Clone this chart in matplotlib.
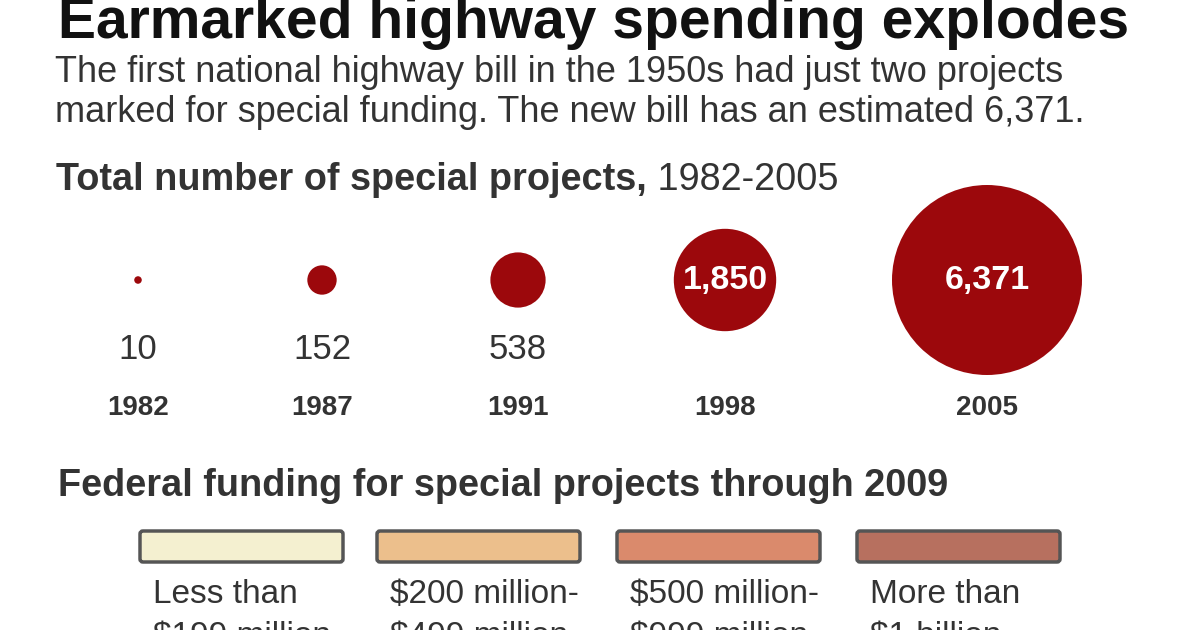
import numpy as np
import matplotlib
matplotlib.use("Agg")
import matplotlib.pyplot as plt
from matplotlib.patches import Circle, FancyBboxPatch

plt.rcParams['font.family'] = ['Liberation Sans', 'DejaVu Sans']

# data
years = ['1982', '1987', '1991', '1998', '2005']
projects = [10, 152, 538, 1850, 6371]
fund_line1 = ['Less than', '$200 million-', '$500 million-', 'More than']
fund_line2 = ['$199 million', '$499 million', '$999 million', '$1 billion']
fund_colors = ['#f4f0d0', '#ecbf8c', '#da8a6c', '#b7705f']

# layout (pixel space)
circle_x = [138, 322, 518, 725, 987]
circle_y = 280
max_r = 95
box_x = [140, 377, 617, 857]
box_w = 203

fig = plt.figure(figsize=(12, 6.3), dpi=100)
ax = fig.add_axes([0, 0, 1, 1])
ax.set_xlim(0, 1200)
ax.set_ylim(630, 0)
ax.axis('off')

dark = '#333333'

ax.text(58, 38, 'Earmarked highway spending explodes', fontsize=41,
        fontweight='bold', color='#111111', va='baseline')
ax.text(55, 82, 'The first national highway bill in the 1950s had just two projects',
        fontsize=26, color=dark, va='baseline')
ax.text(55, 122, 'marked for special funding. The new bill has an estimated 6,371.',
        fontsize=26, color=dark, va='baseline')

t1 = ax.text(56, 190, 'Total number of special projects,', fontsize=27.3,
             fontweight='bold', color=dark, va='baseline')
fig.canvas.draw()
bb = t1.get_window_extent().transformed(ax.transData.inverted())
ax.text(bb.x1, 190, ' 1982-2005', fontsize=27.3, color=dark, va='baseline')

k = max_r / np.sqrt(max(projects))
for x, yr, v in zip(circle_x, years, projects):
    r = k * np.sqrt(v)
    ax.add_patch(Circle((x, circle_y), r, facecolor='#9c080c', edgecolor='none'))
    if v >= 1000:
        ax.text(x, circle_y, f'{v:,}', fontsize=24.5, fontweight='bold',
                color='white', ha='center', va='center')
    else:
        ax.text(x, 359, f'{v:,}', fontsize=25, color=dark, ha='center',
                va='baseline')
    ax.text(x, 415, yr, fontsize=20, fontweight='bold', color=dark,
            ha='center', va='baseline')

ax.text(58, 496, 'Federal funding for special projects through 2009', fontsize=27.3,
        fontweight='bold', color=dark, va='baseline')

for x, l1, l2, c in zip(box_x, fund_line1, fund_line2, fund_colors):
    ax.add_patch(FancyBboxPatch((x, 531), box_w, 31, boxstyle='round,pad=0,rounding_size=3',
                                facecolor=c, edgecolor='#555555', linewidth=2.5))
    ax.text(x + 13, 603, l1, fontsize=24, color=dark, va='baseline')
    ax.text(x + 13, 645, l2, fontsize=24, color=dark, va='baseline')

fig.savefig('out.png', dpi=100)
